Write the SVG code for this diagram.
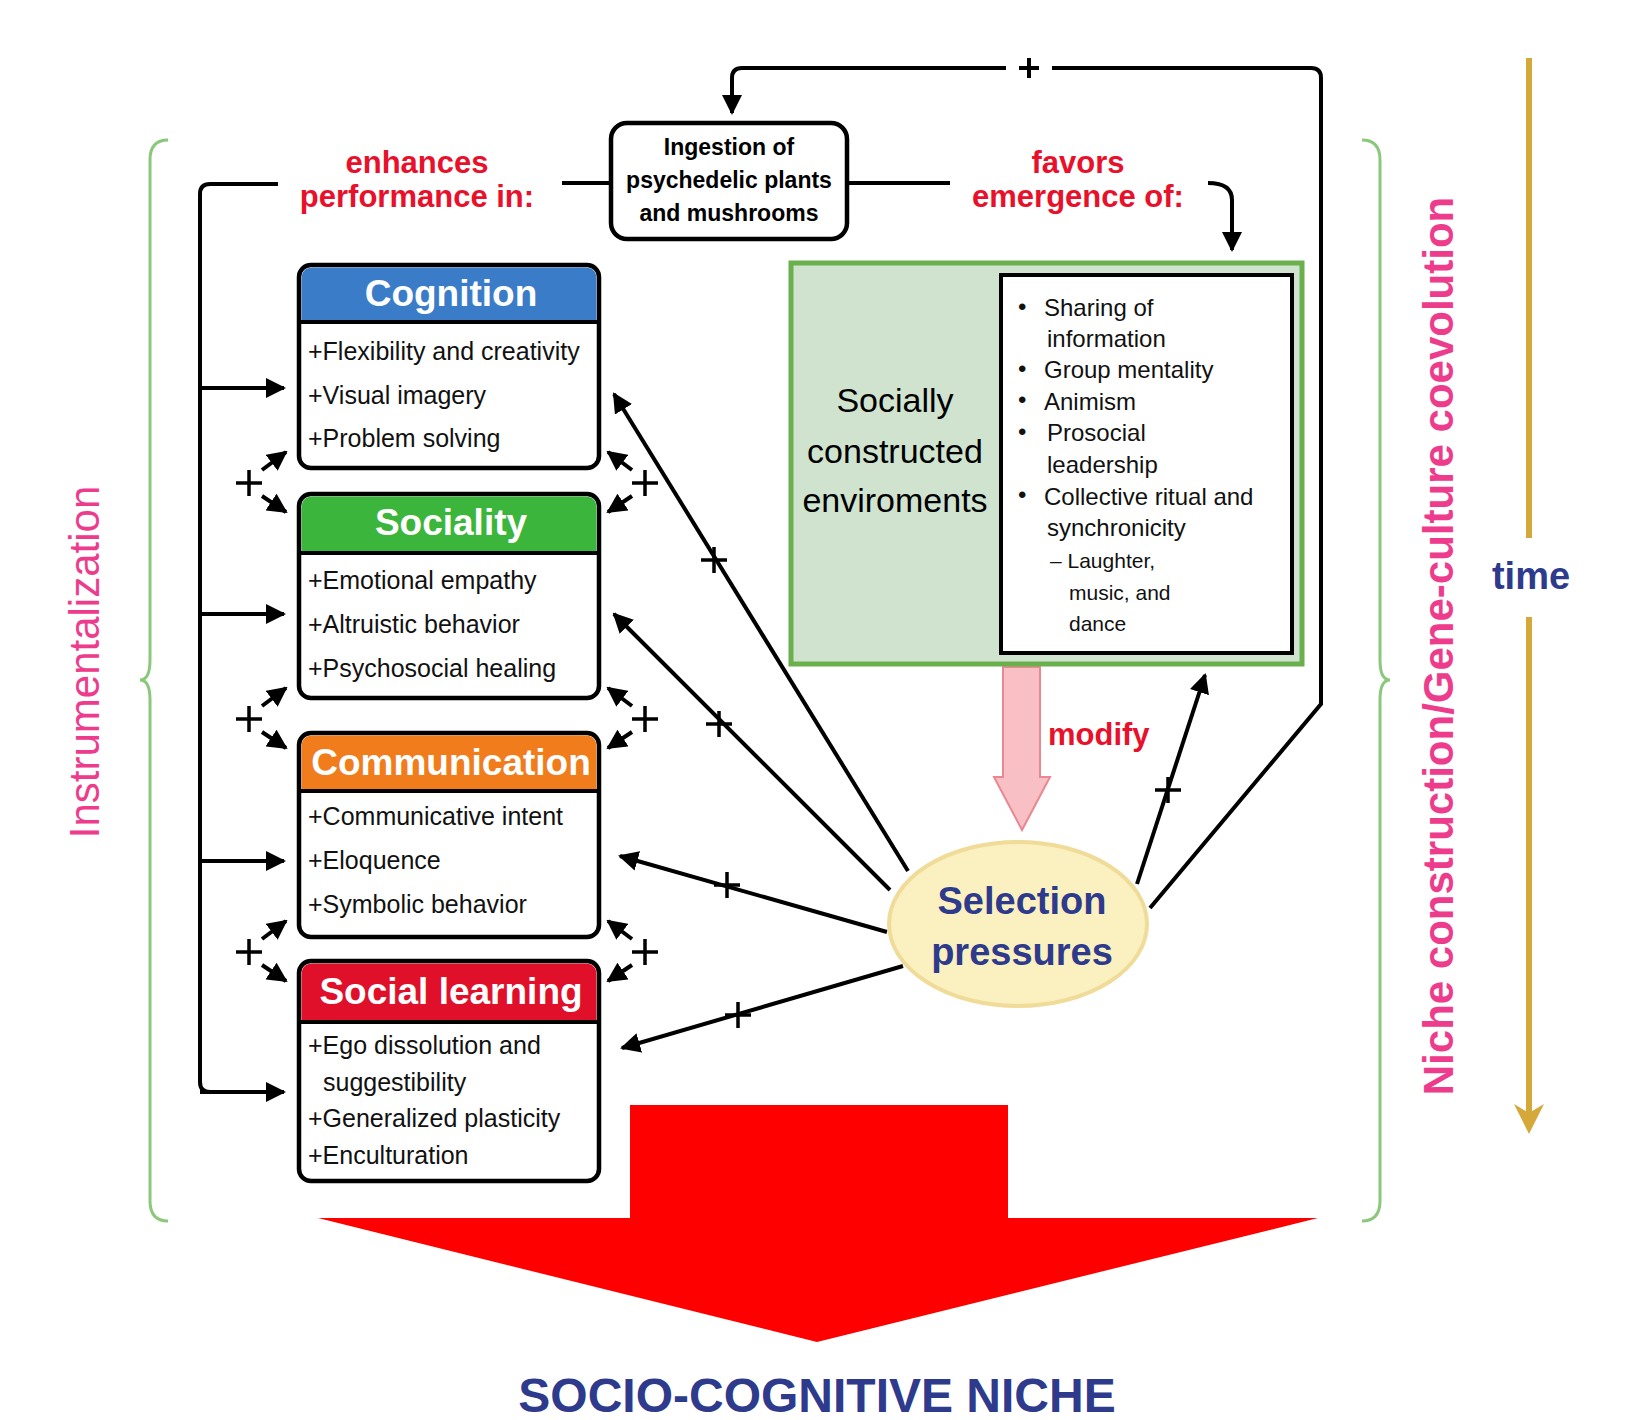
<svg xmlns="http://www.w3.org/2000/svg" width="1638" height="1420" viewBox="0 0 1638 1420">
<defs>
<marker id="ah" viewBox="0 0 10 10" refX="9" refY="5" markerWidth="5" markerHeight="5" orient="auto-start-reverse"><path d="M0,0 L10,5 L0,10 z" fill="#000"/></marker>
<marker id="gh" viewBox="0 0 10 10" refX="8" refY="5" markerWidth="5" markerHeight="5" orient="auto"><path d="M0,0 L10,5 L0,10 L3,5 z" fill="#d4a93a"/></marker>
</defs>
<style>
text{font-family:"Liberation Sans",Arial,sans-serif}
.c{fill:none;stroke:#000;stroke-width:4}
.a{fill:none;stroke:#000;stroke-width:4;marker-end:url(#ah)}
.p{font-size:34px;fill:#000}
.red{fill:#e8102a;font-weight:bold;font-size:31px}
.box{fill:#fff;stroke:#000;stroke-width:4.5}
.hd{fill:#fff;font-weight:bold;font-size:37px;text-anchor:middle}
.it{font-size:25px;fill:#111}
.bl{font-size:24px;fill:#111}
.pink{fill:#ee3c8c;font-size:42px}
</style>
<g id="braces" fill="none" stroke="#8cc87c" stroke-width="3">
<path d="M168,140 Q150,140 150,160 L150,660 Q150,680 140,680 Q150,680 150,700 L150,1201 Q150,1221 168,1221"/>
<path d="M1362,140 Q1380,140 1380,160 L1380,660 Q1380,680 1390,680 Q1380,680 1380,700 L1380,1201 Q1380,1221 1362,1221"/>
</g>
<text class="pink" transform="translate(99,662) rotate(-90)" text-anchor="middle">Instrumentalization</text>
<text class="pink" transform="translate(1453,646) rotate(-90)" text-anchor="middle" font-weight="bold" font-size="39">Niche construction/Gene-culture coevolution</text>
<g id="time">
<line x1="1529" y1="58" x2="1529" y2="538" stroke="#d4a93a" stroke-width="6"/>
<line x1="1529" y1="617" x2="1529" y2="1128" stroke="#d4a93a" stroke-width="6" marker-end="url(#gh)"/>
<text x="1531" y="589" text-anchor="middle" font-size="38" font-weight="bold" fill="#2e3a8c">time</text>
</g>
<g id="bigarrow"><path d="M630,1105 L1008,1105 L1008,1218 L1318,1218 L817,1342 L318,1218 L630,1218 z" fill="#ff0000"/></g>
<text x="817" y="1412" text-anchor="middle" font-size="48" font-weight="bold" fill="#2e3a8c">SOCIO-COGNITIVE NICHE</text>
<g id="connectors">
<path class="c" d="M1150,908 L1321,704 L1321,78 Q1321,68 1311,68 L1052,68"/>
<path class="a" d="M1006,68 L742,68 Q732,68 732,78 L732,113"/>
<path class="c" d="M1019,62 L1039,62 M1029,52 L1029,72" transform="translate(0,6)"/>
<path class="c" d="M611,183 L562,183 M278,184 L210,184 Q200,184 200,194 L200,1082 Q200,1092 210,1092"/>
<path class="a" d="M200,1092 L284,1092"/>
<path class="a" d="M200,388 L284,388"/><path class="a" d="M200,614 L284,614"/><path class="a" d="M200,861 L284,861"/>
<path class="c" d="M847,183 L950,183"/>
<path class="a" d="M1208,183 Q1232,183 1232,200 L1232,250"/>
<path class="a" d="M908,871 L614,394"/><path class="a" d="M890,890 L614,614"/><path class="a" d="M887,932 L620,856"/><path class="a" d="M903,966 L622,1048"/><path class="a" d="M1137,884 L1205,675"/>
<g stroke="#000" stroke-width="3.5"><path d="M714,547 L714,573 M701,560 L727,560"/><path d="M719,711 L719,737 M706,724 L732,724"/><path d="M727,872 L727,898 M714,885 L740,885"/><path d="M738,1002 L738,1028 M725,1015 L751,1015"/><path d="M1168,777 L1168,803 M1155,790 L1181,790"/></g>
<g id="pm">
<path class="a" d="M262,470 L286,452"/><path class="a" d="M262,496 L286,512"/>
<path class="a" d="M632,470 L608,452"/><path class="a" d="M632,496 L608,512"/>
<path d="M249,470 L249,496 M236,483 L262,483 M645,470 L645,496 M632,483 L658,483" stroke="#000" stroke-width="3.5"/>
</g>
<g transform="translate(0,236)">
<path class="a" d="M262,470 L286,452"/><path class="a" d="M262,496 L286,512"/>
<path class="a" d="M632,470 L608,452"/><path class="a" d="M632,496 L608,512"/>
<path d="M249,470 L249,496 M236,483 L262,483 M645,470 L645,496 M632,483 L658,483" stroke="#000" stroke-width="3.5"/>
</g>
<g transform="translate(0,469)">
<path class="a" d="M262,470 L286,452"/><path class="a" d="M262,496 L286,512"/>
<path class="a" d="M632,470 L608,452"/><path class="a" d="M632,496 L608,512"/>
<path d="M249,470 L249,496 M236,483 L262,483 M645,470 L645,496 M632,483 L658,483" stroke="#000" stroke-width="3.5"/>
</g>
<path d="M1003,667 L1040,667 L1040,777 L1050,777 L1022,830 L994,777 L1003,777 z" fill="#f8c0c4" stroke="#e88890" stroke-width="2"/>
</g>
<text class="red" x="417" y="173" text-anchor="middle">enhances</text>
<text class="red" x="417" y="207" text-anchor="middle">performance in:</text>
<text class="red" x="1078" y="173" text-anchor="middle">favors</text>
<text class="red" x="1078" y="207" text-anchor="middle">emergence of:</text>
<text class="red" x="1048" y="745" font-size="32">modify</text>
<g id="ingestion">
<rect x="611" y="123" width="236" height="116" rx="16" class="box" stroke-width="3"/>
<text x="729" y="155" text-anchor="middle" font-size="23" font-weight="bold">Ingestion of</text>
<text x="729" y="188" text-anchor="middle" font-size="23" font-weight="bold">psychedelic plants</text>
<text x="729" y="221" text-anchor="middle" font-size="23" font-weight="bold">and mushrooms</text>
</g>
<g id="env">
<rect x="791" y="263" width="511" height="401" fill="#cfe3cf" stroke="#6ab04c" stroke-width="5"/>
<rect x="1001" y="275" width="291" height="378" fill="#fff" stroke="#000" stroke-width="4"/>
<text class="p" text-anchor="middle" x="895" y="412">Socially</text>
<text class="p" text-anchor="middle" x="895" y="463">constructed</text>
<text class="p" text-anchor="middle" x="895" y="512">enviroments</text>
<g class="bl">
<text x="1018" y="315">•</text><text x="1044" y="316">Sharing of</text>
<text x="1047" y="347">information</text>
<text x="1018" y="377">•</text><text x="1044" y="378">Group mentality</text>
<text x="1018" y="408">•</text><text x="1044" y="410">Animism</text>
<text x="1018" y="440">•</text><text x="1047" y="441">Prosocial</text>
<text x="1047" y="473">leadership</text>
<text x="1018" y="503">•</text><text x="1044" y="505">Collective ritual and</text>
<text x="1047" y="536">synchronicity</text>
<text x="1050" y="568" font-size="21">– Laughter,</text>
<text x="1069" y="600" font-size="21">music, and</text>
<text x="1069" y="631" font-size="21">dance</text>
</g>
</g>
<g id="selection">
<ellipse cx="1018" cy="924" rx="129" ry="82" fill="#fbf0c0" stroke="#f0dc98" stroke-width="4"/>
<text x="1022" y="914" text-anchor="middle" font-size="38" font-weight="bold" fill="#2e3a8c">Selection</text>
<text x="1022" y="965" text-anchor="middle" font-size="38" font-weight="bold" fill="#2e3a8c">pressures</text>
</g>
<g id="cognition">
<rect x="299" y="265" width="300" height="203" rx="12" class="box"/>
<path d="M301.5,322 L301.5,279 Q301.5,267.5 313,267.5 L585,267.5 Q596.5,267.5 596.5,279 L596.5,322 z" fill="#3a7cc8"/>
<line x1="299" y1="322" x2="599" y2="322" stroke="#000" stroke-width="4"/>
<text class="hd" x="451" y="306">Cognition</text>
<text class="it" x="308" y="360">+Flexibility and creativity</text>
<text class="it" x="308" y="404">+Visual imagery</text>
<text class="it" x="308" y="447">+Problem solving</text>
</g>
<g id="sociality">
<rect x="299" y="494" width="300" height="204" rx="12" class="box"/>
<path d="M301.5,553 L301.5,508 Q301.5,496.5 313,496.5 L585,496.5 Q596.5,496.5 596.5,508 L596.5,553 z" fill="#3cb53c"/>
<line x1="299" y1="553" x2="599" y2="553" stroke="#000" stroke-width="4"/>
<text class="hd" x="451" y="535">Sociality</text>
<text class="it" x="308" y="589">+Emotional empathy</text>
<text class="it" x="308" y="633">+Altruistic behavior</text>
<text class="it" x="308" y="677">+Psychosocial healing</text>
</g>
<g id="communication">
<rect x="299" y="733" width="300" height="204" rx="12" class="box"/>
<path d="M301.5,791 L301.5,747 Q301.5,735.5 313,735.5 L585,735.5 Q596.5,735.5 596.5,747 L596.5,791 z" fill="#f07c1c"/>
<line x1="299" y1="791" x2="599" y2="791" stroke="#000" stroke-width="4"/>
<text class="hd" x="451" y="775">Communication</text>
<text class="it" x="308" y="825">+Communicative intent</text>
<text class="it" x="308" y="869">+Eloquence</text>
<text class="it" x="308" y="913">+Symbolic behavior</text>
</g>
<g id="sociallearning">
<rect x="299" y="961" width="300" height="220" rx="12" class="box"/>
<path d="M301.5,1022 L301.5,975 Q301.5,963.5 313,963.5 L585,963.5 Q596.5,963.5 596.5,975 L596.5,1022 z" fill="#e0102a"/>
<line x1="299" y1="1022" x2="599" y2="1022" stroke="#000" stroke-width="4"/>
<text class="hd" x="451" y="1004">Social learning</text>
<text class="it" x="308" y="1054">+Ego dissolution and</text>
<text class="it" x="323" y="1091">suggestibility</text>
<text class="it" x="308" y="1127">+Generalized plasticity</text>
<text class="it" x="308" y="1164">+Enculturation</text>
</g>
</svg>
